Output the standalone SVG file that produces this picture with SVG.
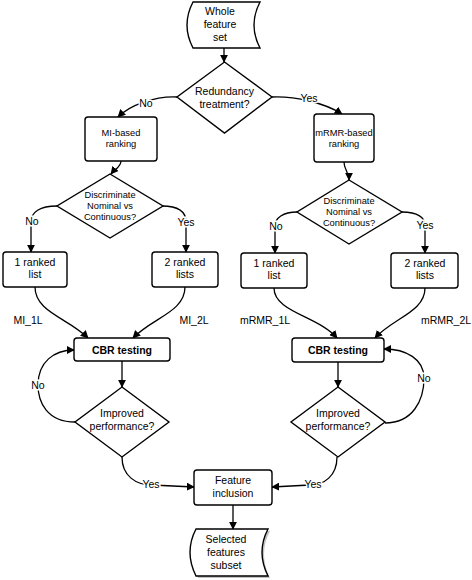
<svg xmlns="http://www.w3.org/2000/svg" width="472" height="580" viewBox="0 0 472 580">
<style>
.s{fill:#fff;stroke:#000;stroke-width:1.4}
.c{fill:none;stroke:#000;stroke-width:1.3}
text{font-family:"Liberation Sans",Arial,sans-serif;font-size:10.5px;fill:#000;text-anchor:middle}
.sm{font-size:9.3px}
.b{font-weight:bold}
.lb{paint-order:stroke;stroke:#fff;stroke-width:3px}
</style>
<defs>
<marker id="a" viewBox="0 0 10 10" refX="9" refY="5" markerWidth="8" markerHeight="8" markerUnits="userSpaceOnUse" orient="auto">
<path d="M0,0 L10,5 L0,10 z" fill="#000"/>
</marker>
</defs>
<g id="connectors">
<path class="c" d="M224,48 L224,62" marker-end="url(#a)"/>
<path class="c" d="M177,97 C155,96 130,105 118,117" marker-end="url(#a)"/>
<path class="c" d="M272,97 C295,96 325,103 342,114" marker-end="url(#a)"/>
<path class="c" d="M121,161 C121,167 115,169 111,174" marker-end="url(#a)"/>
<path class="c" d="M344,162 C344,170 349,172 349,180" marker-end="url(#a)"/>
<path class="c" d="M57,206 C40,206 31,212 31,222 L31,252" marker-end="url(#a)"/>
<path class="c" d="M162,206 C178,206 186,212 186,222 L186,252" marker-end="url(#a)"/>
<path class="c" d="M297,212 C283,212 275,218 275,226 L275,253" marker-end="url(#a)"/>
<path class="c" d="M402,212 C418,212 425,218 425,225 L425,253" marker-end="url(#a)"/>
<path class="c" d="M35,287 C35,312 68,318 88,338" marker-end="url(#a)"/>
<path class="c" d="M185,287 C185,312 152,318 133,338" marker-end="url(#a)"/>
<path class="c" d="M274,288 C274,312 318,316 337,338" marker-end="url(#a)"/>
<path class="c" d="M425,288 C425,312 393,318 375,338" marker-end="url(#a)"/>
<path class="c" d="M122,361 L122,387" marker-end="url(#a)"/>
<path class="c" d="M338,362 L338,387" marker-end="url(#a)"/>
<path class="c" d="M75,422 C47,422 38,402 38,385 C38,362 54,350 74,350" marker-end="url(#a)"/>
<path class="c" d="M385,423 C413,423 424,400 424,378 C424,359 406,349 384,349" marker-end="url(#a)"/>
<path class="c" d="M122,457 C122,476 136,485 152,485 L194,487" marker-end="url(#a)"/>
<path class="c" d="M337,457 C337,476 324,485 310,485 L272,487" marker-end="url(#a)"/>
<path class="c" d="M233,505 L233,529" marker-end="url(#a)"/>
<text class="lb" x="146" y="107">No</text>
<text class="lb" x="309" y="102">Yes</text>
<text class="lb" x="32" y="225">No</text>
<text class="lb" x="186" y="226">Yes</text>
<text class="lb" x="276" y="230">No</text>
<text class="lb" x="425" y="229">Yes</text>
<text x="28" y="324">MI_1L</text>
<text x="194" y="324">MI_2L</text>
<text x="265" y="324">mRMR_1L</text>
<text x="446" y="324">mRMR_2L</text>
<text class="lb" x="38" y="389">No</text>
<text class="lb" x="424" y="382">No</text>
<text class="lb" x="151" y="488">Yes</text>
<text class="lb" x="313" y="488">Yes</text>
</g>
<g id="whole">
<path class="s" d="M193,2 L260,2 Q248,25 260,48 L193,48 Q181,25 193,2 z"/>
<text x="220" y="15">Whole</text>
<text x="220" y="28">feature</text>
<text x="220" y="41">set</text>
</g>
<g id="redundancy">
<path class="s" d="M224.5,62 L272,97 L224.5,133 L177,97 z"/>
<text x="224.5" y="95">Redundancy</text>
<text x="224.5" y="108">treatment?</text>
</g>
<g id="mi">
<rect class="s" x="85" y="117" width="72" height="44" rx="3"/>
<text class="sm" x="121" y="136">MI-based</text>
<text class="sm" x="121" y="147">ranking</text>
</g>
<g id="mrmr">
<rect class="s" x="314" y="114" width="60" height="48" rx="3"/>
<text class="sm" x="344" y="136">mRMR-based</text>
<text class="sm" x="344" y="147">ranking</text>
</g>
<g id="disc1">
<path class="s" d="M110,174 L163,206 L110,238 L57,206 z"/>
<text class="sm" x="110" y="198">Discriminate</text>
<text class="sm" x="110" y="209">Nominal vs</text>
<text class="sm" x="110" y="220">Continuous?</text>
</g>
<g id="disc2">
<path class="s" d="M349,180 L402,212 L349,244 L297,212 z"/>
<text class="sm" x="349" y="204">Discriminate</text>
<text class="sm" x="349" y="215">Nominal vs</text>
<text class="sm" x="349" y="226">Continuous?</text>
</g>
<g id="l1">
<rect class="s" x="3" y="252" width="64" height="35" rx="3"/>
<text x="35" y="266">1 ranked</text>
<text x="35" y="278">list</text>
</g>
<g id="l2">
<rect class="s" x="152" y="252" width="66" height="35" rx="3"/>
<text x="185" y="266">2 ranked</text>
<text x="185" y="278">lists</text>
</g>
<g id="r1">
<rect class="s" x="241" y="253" width="66" height="35" rx="3"/>
<text x="274" y="267">1 ranked</text>
<text x="274" y="279">list</text>
</g>
<g id="r2">
<rect class="s" x="391" y="253" width="67" height="35" rx="3"/>
<text x="425" y="267">2 ranked</text>
<text x="425" y="279">lists</text>
</g>
<g id="cbr1">
<rect class="s" x="74" y="338" width="96" height="23" rx="3"/>
<text class="b" x="122" y="353.5">CBR testing</text>
</g>
<g id="cbr2">
<rect class="s" x="292" y="338" width="92" height="24" rx="3"/>
<text class="b" x="338" y="354">CBR testing</text>
</g>
<g id="imp1">
<path class="s" d="M122,387 L169,422 L122,457 L75,422 z"/>
<text x="122" y="417">Improved</text>
<text x="122" y="430">performance?</text>
</g>
<g id="imp2">
<path class="s" d="M338,387 L385,422 L338,457 L291,422 z"/>
<text x="338" y="417">Improved</text>
<text x="338" y="430">performance?</text>
</g>
<g id="inclusion">
<rect class="s" x="194" y="470" width="78" height="35" rx="3"/>
<text x="233" y="484">Feature</text>
<text x="233" y="497">inclusion</text>
</g>
<g id="selected">
<path d="M198,531 L270,531 Q258,554 270,578 L198,578 Q186,554 198,531 z" fill="#999" opacity="0.6"/>
<path class="s" d="M196,529 L268,529 Q256,552 268,576 L196,576 Q184,552 196,529 z"/>
<text x="226" y="543">Selected</text>
<text x="226" y="556">features</text>
<text x="226" y="569">subset</text>
</g>
</svg>
